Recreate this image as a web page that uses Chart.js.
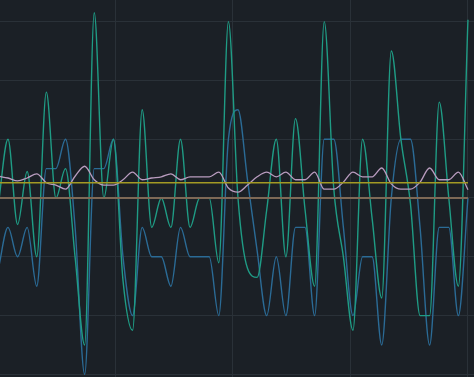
<!DOCTYPE html>
<html>
<head>
<meta charset="utf-8">
<script src="https://cdn.jsdelivr.net/npm/chart.js@4/dist/chart.umd.min.js"></script>
<style>
  html, body { margin: 0; padding: 0; background: #1b2026; }
  #contenedor { width: 474px; height: 377px; }
</style>
</head>
<body>
<div id="contenedor"><canvas id="grafica"></canvas></div>
<script>
// Datos
const indices = [0, 1, 2, 3, 4, 5, 6, 7, 8, 9, 10, 11, 12, 13, 14, 15, 16, 17, 18, 19,
  20, 21, 22, 23, 24, 25, 26, 27, 28, 29, 30, 31, 32, 33, 34, 35, 36, 37, 38, 39,
  40, 41, 42, 43, 44, 45, 46, 47, 48, 49];
const serieVerde = [-0.1, 1.0, -0.45, 0.45, -1.0, 1.8, 0.0, 0.5, -1.0, -2.5,
  3.15, 0.0, 1.0, -1.4, -2.25, 1.5, -0.5, 0.0, -0.5, 1.0,
  -0.5, 0.0, 0.0, -1.1, 3.0, 0.0, -1.2, -1.35, -0.2, 1.0,
  -1.0, 1.35, -0.2, -1.5, 3.0, 0.15, -1.0, -2.25, 1.0, -0.35,
  -1.7, 2.5, 1.0, -0.1, -2.0, -2.0, 1.63, 0.0, -1.5, 3.03];
const serieAzul = [-1.2, -0.5, -1.0, -0.5, -1.5, 0.5, 0.5, 1.0, -0.5, -3.0,
  0.5, 0.5, 1.0, -1.0, -2.0, -0.5, -1.0, -1.0, -1.5, -0.5,
  -1.0, -1.0, -1.0, -2.0, 1.0, 1.5, 0.3, -0.9, -2.0, -1.0,
  -2.0, -0.5, -0.5, -2.0, 1.0, 1.0, -0.5, -2.0, -1.0, -1.0,
  -2.5, 0.0, 1.0, 1.0, -0.5, -2.5, -0.5, -0.5, -2.0, 0.0];
const serieRosa = [0.37, 0.34, 0.29, 0.34, 0.41, 0.26, 0.22, 0.15, 0.37, 0.54,
  0.31, 0.22, 0.22, 0.31, 0.44, 0.31, 0.34, 0.36, 0.41, 0.31,
  0.36, 0.36, 0.36, 0.44, 0.17, 0.10, 0.22, 0.36, 0.44, 0.36,
  0.44, 0.31, 0.31, 0.44, 0.15, 0.15, 0.27, 0.44, 0.36, 0.36,
  0.51, 0.24, 0.15, 0.15, 0.27, 0.51, 0.31, 0.31, 0.44, 0.14];
const serieAmarilla = [0.26, 0.26, 0.26, 0.26, 0.26, 0.26, 0.26, 0.26, 0.26, 0.26,
  0.26, 0.26, 0.26, 0.26, 0.26, 0.26, 0.26, 0.26, 0.26, 0.26,
  0.26, 0.26, 0.26, 0.26, 0.26, 0.26, 0.26, 0.26, 0.26, 0.26,
  0.26, 0.26, 0.26, 0.26, 0.26, 0.26, 0.26, 0.26, 0.26, 0.26,
  0.26, 0.26, 0.26, 0.26, 0.26, 0.26, 0.26, 0.26, 0.26, 0.26];
const serieMarron = [0, 0, 0, 0, 0, 0, 0, 0, 0, 0,
  0, 0, 0, 0, 0, 0, 0, 0, 0, 0,
  0, 0, 0, 0, 0, 0, 0, 0, 0, 0,
  0, 0, 0, 0, 0, 0, 0, 0, 0, 0,
  0, 0, 0, 0, 0, 0, 0, 0, 0, 0];
const marcasX = [0.06, 12.27, 24.48, 36.69, 48.9];
const marcasY = [-3, -2, -1, 0, 1, 2, 3];

function aPuntos(serie) {
  return serie.map((v, i) => ({ x: indices[i], y: v }));
}

function crearSerie(serie, color, ancho) {
  return {
    data: aPuntos(serie),
    borderColor: color,
    borderWidth: ancho,
    pointRadius: 0,
    fill: false,
    cubicInterpolationMode: "monotone"
  };
}

function prepararConfiguracion() {
  const colorGrid = "#2a3138";
  return {
    type: "line",
    data: {
      datasets: [
        crearSerie(serieAmarilla, "#a39a24", 1.5),
        crearSerie(serieMarron, "#7e6956", 2),
        crearSerie(serieRosa, "#b99cbf", 1.3),
        crearSerie(serieVerde, "#1f9c85", 1.4),
        crearSerie(serieAzul, "#2b6b96", 1.4)
      ]
    },
    options: {
      responsive: true,
      maintainAspectRatio: false,
      animation: false,
      layout: { padding: 0 },
      plugins: { legend: { display: false }, tooltip: { enabled: false } },
      scales: {
        x: {
          type: "linear",
          min: 0.165,
          max: 49.63,
          afterBuildTicks: (eje) => { eje.ticks = marcasX.map(v => ({ value: v })); },
          ticks: { display: false },
          grid: { color: colorGrid, drawTicks: false },
          border: { display: false }
        },
        y: {
          min: -3.044,
          max: 3.367,
          afterBuildTicks: (eje) => { eje.ticks = marcasY.map(v => ({ value: v })); },
          ticks: { display: false },
          grid: { color: colorGrid, drawTicks: false },
          border: { display: false }
        }
      }
    }
  };
}

function renderGrafica() {
  const config = prepararConfiguracion();
  new Chart(document.getElementById("grafica"), config);
}

renderGrafica();
</script>
</body>
</html>
